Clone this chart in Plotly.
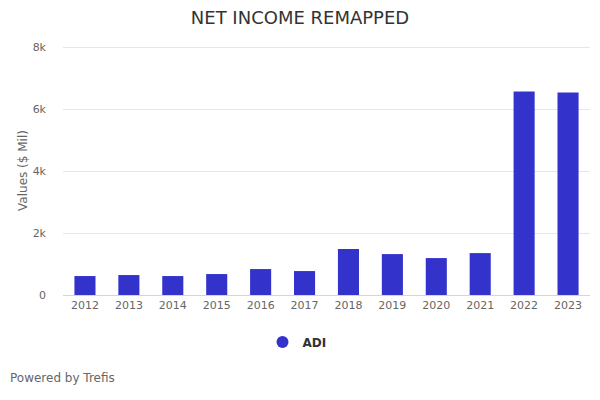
import plotly.graph_objects as go

years = ["2012", "2013", "2014", "2015", "2016", "2017",
         "2018", "2019", "2020", "2021", "2022", "2023"]
net_income = [613, 645, 613, 677, 839, 774, 1484, 1323, 1194, 1355, 6581, 6548]
series_name = "ADI"
tick_vals = [0, 2000, 4000, 6000, 8000]
tick_text = ["0", "2k", "4k", "6k", "8k"]

bar_color = "#3333cc"

# the page body adds an 8px margin, so the figure is 8px smaller and shifted
W, H = 592, 392

fig = go.Figure()

fig.add_trace(go.Bar(
    x=years,
    y=net_income,
    name=series_name,
    marker=dict(color=bar_color, line=dict(width=0)),
    showlegend=False,
))

# legend entry with a round marker
fig.add_trace(go.Scatter(
    x=[None],
    y=[None],
    mode="markers",
    name=series_name,
    marker=dict(color=bar_color, size=12, symbol="circle"),
))

fig.update_layout(
    width=W,
    height=H,
    margin=dict(l=55, r=10, t=38, b=105, autoexpand=False),
    paper_bgcolor="white",
    plot_bgcolor="white",
    font=dict(family="DejaVu Sans", color="#666666", size=11),
    title=dict(
        text="NET INCOME REMAPPED",
        x=292 / W,
        xanchor="center",
        xref="container",
        y=1 - 10 / H,
        yanchor="middle",
        font=dict(size=18, color="#333333"),
    ),
    bargap=0.52,
    showlegend=True,
    legend=dict(
        orientation="h",
        x=0.4345 + 5 / 527,
        xanchor="center",
        y=-47 / 249,
        yanchor="middle",
        font=dict(size=12, color="#333333", weight="bold"),
    ),
    xaxis=dict(
        showgrid=False,
        showline=True,
        linecolor="#ccd6eb",
        linewidth=1,
        ticks="",
        automargin=False,
        tickfont=dict(size=11, color="#666666"),
    ),
    yaxis=dict(
        range=[0, 8050],
        tickvals=tick_vals,
        ticktext=tick_text,
        showgrid=True,
        gridcolor="#e6e6e6",
        zeroline=False,
        automargin=False,
        ticklabelstandoff=16,
        title=dict(text="Values ($ Mil)", font=dict(size=12, color="#666666"), standoff=2),
        tickfont=dict(size=11, color="#666666"),
    ),
    annotations=[
        dict(
            text="Powered by Trefis",
            xref="paper",
            yref="paper",
            x=-55 / 527,
            y=-83 / 249,
            xanchor="left",
            yanchor="middle",
            showarrow=False,
            font=dict(size=12, color="#666666"),
        )
    ],
)

fig.write_html("out.html")
